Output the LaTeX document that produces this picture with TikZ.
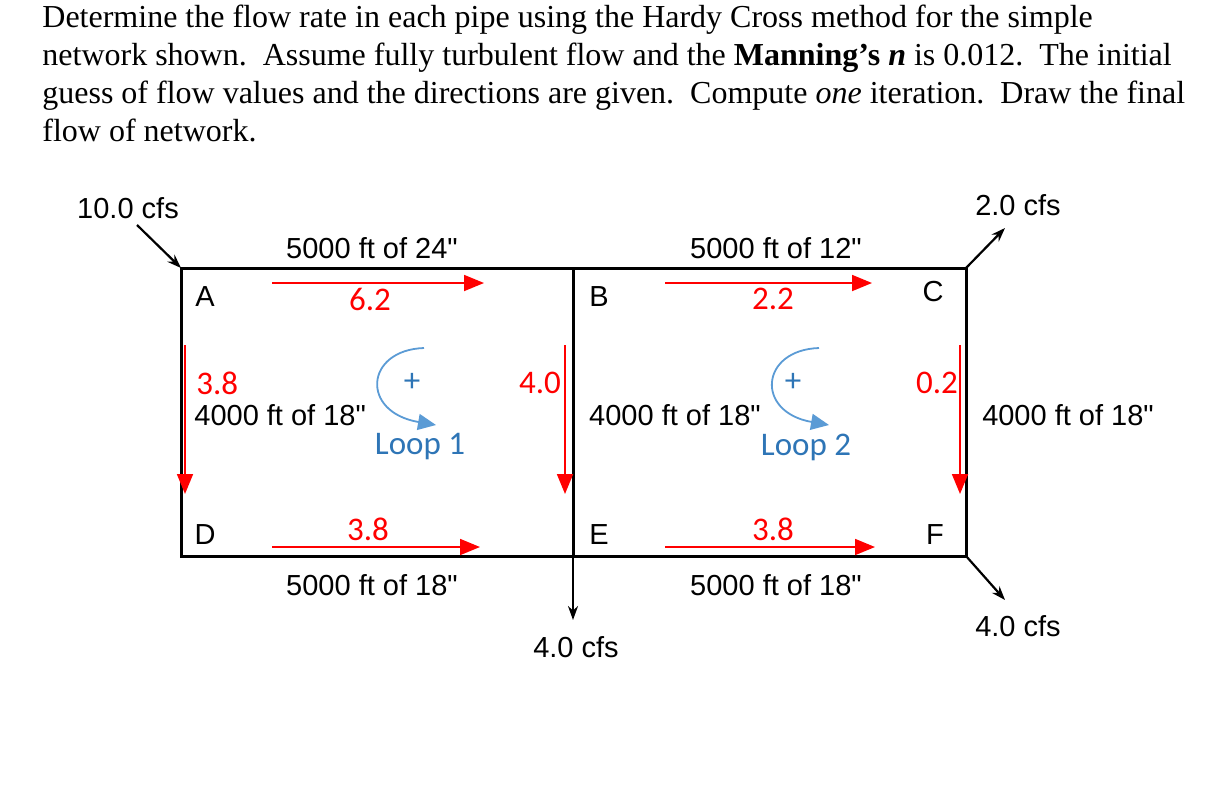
\documentclass[tikz,border=0pt]{standalone}
\usepackage{fontspec}
\setmainfont{Liberation Serif}
\newfontfamily\arialfam{Liberation Sans}
\newfontfamily\califam{Carlito}
\usetikzlibrary{arrows.meta}
\definecolor{lblue}{RGB}{91,155,213}
\definecolor{tblue}{RGB}{46,117,182}
\tikzset{
 pipe/.style={line width=1.5pt},
 flow/.style={red,line width=0.9pt,-{Triangle[length=10pt,width=8pt]}},
 lab/.style={font=\arialfam\fontsize{14.5}{16}\selectfont,inner sep=0pt},
 num/.style={red,font=\califam\fontsize{16.5}{18}\selectfont,inner sep=0pt},
 ext/.style={line width=1.1pt,-{Stealth[length=7pt,width=5pt]}},
 loop/.style={lblue,line width=0.9pt,-{Triangle[length=9pt,width=8pt]}},
 looplab/.style={tblue,font=\califam\fontsize{16.5}{18}\selectfont,inner sep=0pt}
}
\begin{document}
\begin{tikzpicture}[x=0.5pt,y=-0.5pt]
\useasboundingbox (0,0) rectangle (1218,798);
\node[anchor=north west,align=left,inner sep=0pt,font=\fontsize{16}{19}\selectfont] (title) at (42,5)
{Determine the flow rate in each pipe using the Hardy Cross method for the simple\\
network shown.\ \ Assume fully turbulent flow and the \textbf{Manning's \textit{n}} is 0.012.\ \ The initial\\
guess of flow values and the directions are given.\ \ Compute \textit{one} iteration.\ \ Draw the final\\
flow of network.};
\coordinate (A) at (181,268); \coordinate (B) at (573,268); \coordinate (C) at (966,268);
\coordinate (D) at (181,556); \coordinate (E) at (573,556); \coordinate (F) at (966,556);
\draw[pipe] (A) -- (C) -- (F) -- (D) -- cycle;
\draw[pipe] (B) -- (E);
% external flows
\node[lab] (in) at (128,208) {10.0 cfs};
\coordinate (inS) at (137,225);
\draw[ext] (inS) -- (A);
\node[lab] (out1) at (1018,205) {2.0 cfs};
\coordinate (o1) at (1005,228);
\draw[ext] (C) -- (o1);
\node[lab] (out2) at (1018,626) {4.0 cfs};
\coordinate (o2) at (1005,600);
\draw[ext] (F) -- (o2);
\node[lab] (out3) at (576,647) {4.0 cfs};
\coordinate (o3) at (573,620);
\draw[ext] (E) -- (o3);
% junction letters
\node[lab] (lA) at (205,297) {A};
\node[lab] (lB) at (599,297) {B};
\node[lab] (lC) at (933,292) {C};
\node[lab] (lD) at (205,535) {D};
\node[lab] (lE) at (599,535) {E};
\node[lab] (lF) at (935,535) {F};
% pipe labels
\node[lab] (p1) at (372,248) {5000 ft of 24"};
\node[lab] (p2) at (776,248) {5000 ft of 12"};
\node[lab,anchor=west] (p3) at (194,415) {4000 ft of 18"};
\node[lab] (p4) at (675,415) {4000 ft of 18"};
\node[lab] (p5) at (1068,415) {4000 ft of 18"};
\node[lab] (p6) at (372,585) {5000 ft of 18"};
\node[lab] (p7) at (776,585) {5000 ft of 18"};
% red flow arrows
\coordinate (f1a) at (272,283); \coordinate (f1b) at (484,283);
\coordinate (f2a) at (665,283); \coordinate (f2b) at (872,283);
\coordinate (f3a) at (272,547); \coordinate (f3b) at (480,547);
\coordinate (f4a) at (665,547); \coordinate (f4b) at (875,547);
\coordinate (v1a) at (185,345); \coordinate (v1b) at (185,494);
\coordinate (v2a) at (565,345); \coordinate (v2b) at (565,494);
\coordinate (v3a) at (960,345); \coordinate (v3b) at (960,494);
\draw[flow] (f1a) -- (f1b);
\draw[flow] (f2a) -- (f2b);
\draw[flow] (f3a) -- (f3b);
\draw[flow] (f4a) -- (f4b);
\draw[flow] (v1a) -- (v1b);
\draw[flow] (v2a) -- (v2b);
\draw[flow] (v3a) -- (v3b);
\node[num] (n1) at (370,299) {6.2};
\node[num] (n2) at (773,299) {2.2};
\node[num,anchor=west] (n3) at (196,383) {3.8};
\node[num] (n4) at (540,383) {4.0};
\node[num] (n5) at (937,383) {0.2};
\node[num] (n6) at (368,529) {3.8};
\node[num] (n7) at (773,529) {3.8};
% loops
\coordinate (l1a) at (424,348); \coordinate (l1b) at (436,425);
\draw[loop] (l1a) .. controls (365,350) and (360,412) .. (l1b);
\node[looplab] (pl1) at (412,382) {+};
\node[looplab] (L1) at (420,447) {Loop 1};
\coordinate (l2a) at (819,348); \coordinate (l2b) at (829,425);
\draw[loop] (l2a) .. controls (760,350) and (755,412) .. (l2b);
\node[looplab] (pl2) at (793,382) {+};
\node[looplab] (L2) at (806,447) {Loop 2};
\end{tikzpicture}
\end{document}
